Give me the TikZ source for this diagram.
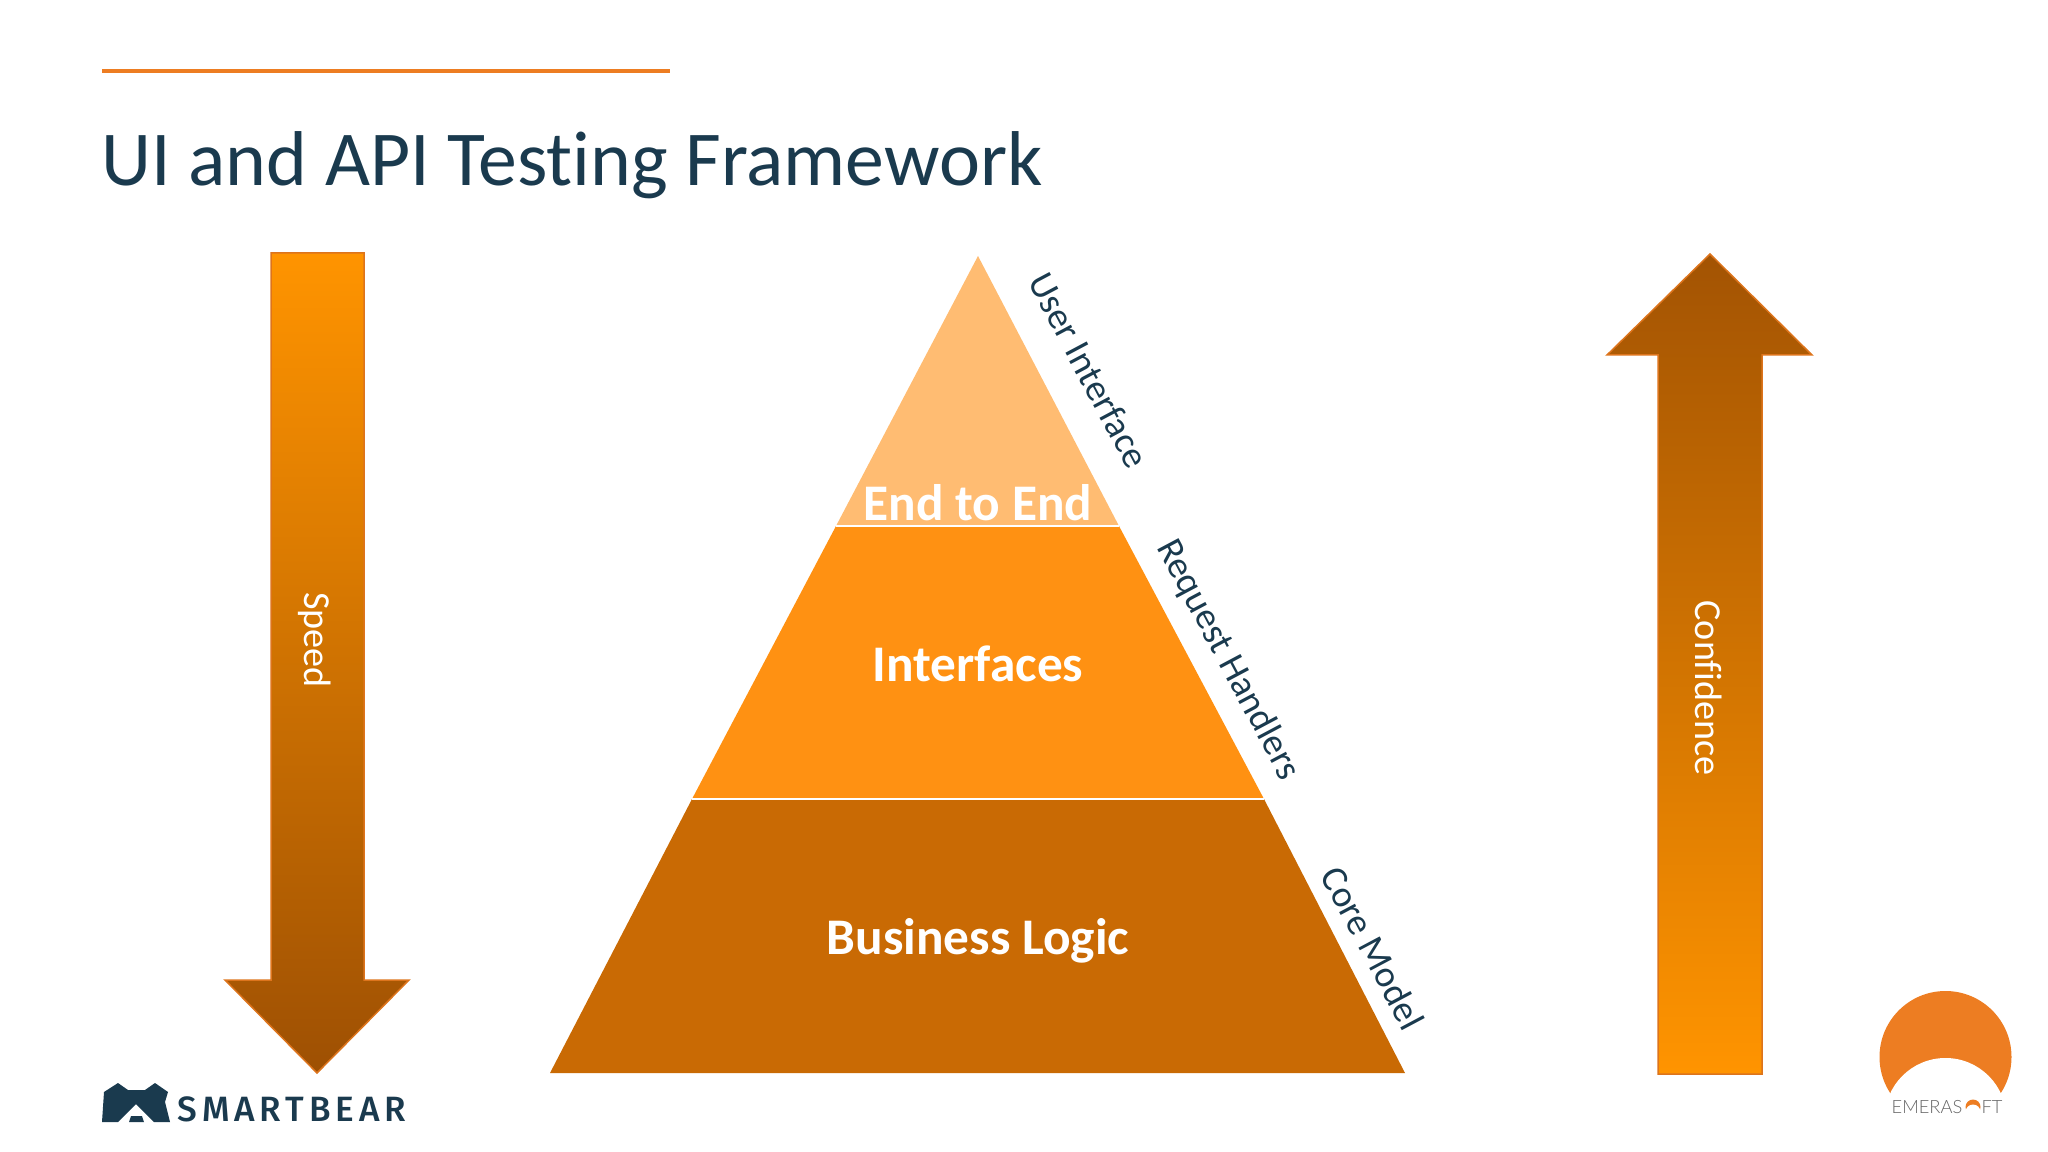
\documentclass[tikz,border=0pt]{standalone}
\usepackage{fontspec}
\setmainfont[Ligatures=NoCommon]{Carlito}
\newfontfamily\bearfont[LetterSpace=14]{Fira Sans Medium}
\newfontfamily\emerafont{Lato Light}
\definecolor{navy}{HTML}{1A3A4E}
\definecolor{rule}{HTML}{ED7D22}
\definecolor{light}{HTML}{FFBC72}
\definecolor{mid}{HTML}{FF9112}
\definecolor{deep}{HTML}{C96A04}
\definecolor{brown}{HTML}{9E5003}
\definecolor{amber}{HTML}{FF9400}
\tikzset{
  band/.style={fill=#1},
  split/.style={draw=white, line width=0.2mm},
  bandtext/.style={text=white, font=\fontsize{14.6}{16}\selectfont\bfseries},
  sidetext/.style={text=navy, rotate=-62, font=\fontsize{10.65}{13}\selectfont},
  arrowtext/.style={text=white, rotate=-90, font=\fontsize{10.85}{13}\selectfont},
  bigarrow/.style={draw=#1, line width=0.15mm}
}
\begin{document}
\begin{tikzpicture}[x=0.01cm,y=-0.01cm]
\useasboundingbox (0,0) rectangle (2048,1152);
\draw [rule, line width=0.4mm] (102,71)--(670,71);
\node (title) at (572,165) [text=navy, font=\fontsize{22.1}{26}\selectfont] {UI and API Testing Framework};
% speed
\draw [bigarrow={rule!80!brown}, top color=amber, bottom color=brown] (271,253)--(364,253)--(364,980)--(409,980)--(317,1073)--(225,980)--(271,980)--cycle;
\node (speed) at (315,640) [arrowtext] {Speed};
% confidence
\draw [bigarrow={rule!80!brown}, top color=brown!95!amber, bottom color=amber] (1710,254)--(1812,355)--(1762,355)--(1762,1074)--(1658,1074)--(1658,355)--(1607,355)--cycle;
\node (confidence) at (1709,688) [arrowtext] {Confidence};
% pyramid
\fill [band=light] (978,256)--(1119,526)--(836,526)--cycle;
\fill [band=mid] (836,526)--(1119,526)--(1264,799)--(692,799)--cycle;
\fill [band=deep] (692,799)--(1264,799)--(1405,1073)--(550,1073)--cycle;
\draw [split] (836,526)--(1119,526);
\draw [split] (692,799)--(1264,799);
\node (endtoend) at (978,503) [bandtext] {End to End};
\node (interfaces) at (978,664) [bandtext] {Interfaces};
\node (business) at (978,941) [bandtext] {Business Logic};
\node (userif) at (1089,370) [sidetext] {User Interface};
\node (request) at (1228,660) [sidetext] {Request Handlers};
\node (core) at (1373,948) [sidetext] {Core Model};
% smartbear
\fill [navy] (102,1122)--(104,1092)--(118,1083)--(128,1090)--(145,1090)--(155,1083)--(168,1092)--(165,1102)--(170,1122)--(154,1122)--(136,1104)--(118,1122)--cycle;
\fill [navy] (129,1122)--(131,1116)--(142,1116)--(144,1122)--cycle;
\node (bear) at (292,1109) [text=navy, font=\fontsize{10}{12}\bearfont] {SMARTBEAR};
% emerasoft
\fill [rule] (1945.5,1057) circle [radius=66];
\fill [white] (1945.5,1119) circle [radius=61];
\fill [rule] (1973,1107) circle [radius=7.5];
\fill [white] (1973,1112) circle [radius=7.5];
\node (emera) at (1927,1107) [text=black!60, font=\fontsize{5.2}{6}\emerafont] {EMERAS};
\node (emeraft) at (1992,1107) [text=black!60, font=\fontsize{5.2}{6}\emerafont] {FT};
\end{tikzpicture}
\end{document}
